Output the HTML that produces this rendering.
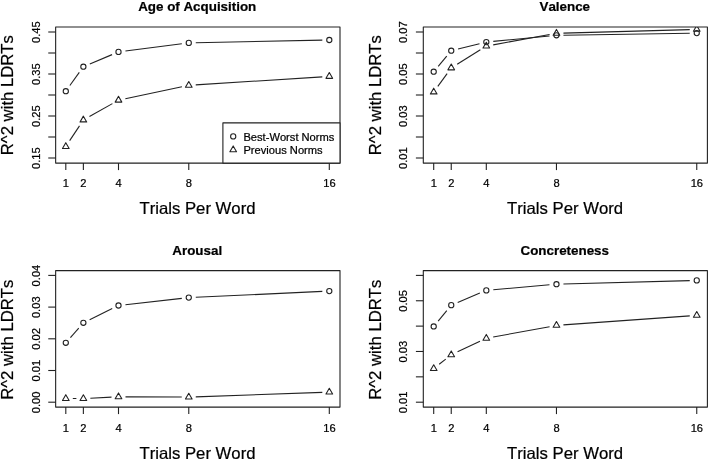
<!DOCTYPE html>
<html><head><meta charset="utf-8"><title>R^2 with LDRTs by Trials Per Word</title>
<style>
html,body{margin:0;padding:0;background:#fff}
svg{display:block}
svg text{font-family:"Liberation Sans",Arial,Helvetica,sans-serif;fill:#000;stroke:#000;stroke-width:0.22px;stroke-linejoin:round;font-kerning:none}
.t{font-size:11.15px}
.l{font-size:16.72px}
.m{font-size:13.38px;font-weight:bold}
.mk{stroke-width:1.1}
</style></head><body>
<svg width="709" height="460" viewBox="0 0 709 460">
<rect x="0" y="0" width="709" height="460" fill="#fff" stroke="none"/>
<defs><clipPath id="bx0"><rect x="55.65" y="27.0" width="284.35" height="136.10"/></clipPath><clipPath id="bx1"><rect x="55.60" y="27.0" width="284.10" height="136.10"/></clipPath><clipPath id="bx2"><rect x="55.65" y="270.6" width="284.35" height="136.50"/></clipPath><clipPath id="bx3"><rect x="55.60" y="270.6" width="284.10" height="136.50"/></clipPath></defs>
<g fill="none" stroke="#222" stroke-width="1.1" stroke-linecap="butt" stroke-linejoin="round">
<g transform="translate(0,0)">
<rect x="55.65" y="27.0" width="284.35" height="136.10"/>
<line x1="65.80" y1="163.10" x2="65.80" y2="170.10"/>
<text class="t" x="65.90" y="187.1" text-anchor="middle">1</text>
<line x1="83.37" y1="163.10" x2="83.37" y2="170.10"/>
<text class="t" x="83.47" y="187.1" text-anchor="middle">2</text>
<line x1="118.50" y1="163.10" x2="118.50" y2="170.10"/>
<text class="t" x="118.60" y="187.1" text-anchor="middle">4</text>
<line x1="188.77" y1="163.10" x2="188.77" y2="170.10"/>
<text class="t" x="188.87" y="187.1" text-anchor="middle">8</text>
<line x1="329.30" y1="163.10" x2="329.30" y2="170.10"/>
<text class="t" x="329.40" y="187.1" text-anchor="middle">16</text>
<line x1="48.25" y1="32.00" x2="55.65" y2="32.00"/>
<text class="t" transform="translate(39.6,32.15) rotate(-90)" text-anchor="middle">0.45</text>
<line x1="48.25" y1="53.00" x2="55.65" y2="53.00"/>
<line x1="48.25" y1="74.00" x2="55.65" y2="74.00"/>
<text class="t" transform="translate(39.6,74.15) rotate(-90)" text-anchor="middle">0.35</text>
<line x1="48.25" y1="95.00" x2="55.65" y2="95.00"/>
<line x1="48.25" y1="116.00" x2="55.65" y2="116.00"/>
<text class="t" transform="translate(39.6,116.15) rotate(-90)" text-anchor="middle">0.25</text>
<line x1="48.25" y1="137.00" x2="55.65" y2="137.00"/>
<line x1="48.25" y1="158.00" x2="55.65" y2="158.00"/>
<text class="t" transform="translate(39.6,158.15) rotate(-90)" text-anchor="middle">0.15</text>
<g clip-path="url(#bx0)">
<line x1="69.88" y1="85.51" x2="79.29" y2="72.39"/>
<line x1="89.82" y1="63.98" x2="112.05" y2="54.62"/>
<line x1="125.44" y1="51.01" x2="181.82" y2="43.79"/>
<line x1="195.77" y1="42.76" x2="322.30" y2="40.14"/>
<line x1="69.67" y1="140.67" x2="79.50" y2="125.83"/>
<line x1="89.46" y1="116.56" x2="112.40" y2="103.64"/>
<line x1="125.35" y1="98.75" x2="181.92" y2="86.80"/>
<line x1="195.75" y1="84.91" x2="322.31" y2="76.84"/>
<g class="mk">
<circle cx="65.80" cy="91.20" r="2.6"/>
<circle cx="83.37" cy="66.70" r="2.6"/>
<circle cx="118.50" cy="51.90" r="2.6"/>
<circle cx="188.77" cy="42.90" r="2.6"/>
<circle cx="329.30" cy="40.00" r="2.6"/>
<polygon points="65.80,142.65 69.13,148.43 62.47,148.43"/>
<polygon points="83.37,116.15 86.70,121.92 80.03,121.92"/>
<polygon points="118.50,96.35 121.83,102.12 115.17,102.12"/>
<polygon points="188.77,81.50 192.10,87.27 185.43,87.27"/>
<polygon points="329.30,72.55 332.63,78.33 325.97,78.33"/>
</g></g>
<text class="m" transform="translate(197.22,10.8)" text-anchor="middle">Age of Acquisition</text>
<text class="l" x="197.52" y="214.0" text-anchor="middle">Trials Per Word</text>
<text class="l" transform="translate(13.0,95.15) rotate(-90)" text-anchor="middle">R^2 with LDRTs</text>
<rect x="222.9" y="122.9" width="117.10" height="40.20" fill="#fff"/>
<g class="mk">
<circle cx="233.20" cy="136.40" r="2.6"/>
<polygon points="233.20,145.95 236.53,151.73 229.87,151.73"/>
</g>
<text class="t" x="243.4" y="140.7">Best-Worst Norms</text>
<text class="t" x="243.4" y="153.8">Previous Norms</text>
</g>
<g transform="translate(367.7,0)">
<rect x="55.60" y="27.0" width="284.10" height="136.10"/>
<line x1="66.00" y1="163.10" x2="66.00" y2="170.10"/>
<text class="t" x="66.10" y="187.1" text-anchor="middle">1</text>
<line x1="83.54" y1="163.10" x2="83.54" y2="170.10"/>
<text class="t" x="83.64" y="187.1" text-anchor="middle">2</text>
<line x1="118.61" y1="163.10" x2="118.61" y2="170.10"/>
<text class="t" x="118.71" y="187.1" text-anchor="middle">4</text>
<line x1="188.76" y1="163.10" x2="188.76" y2="170.10"/>
<text class="t" x="188.86" y="187.1" text-anchor="middle">8</text>
<line x1="329.05" y1="163.10" x2="329.05" y2="170.10"/>
<text class="t" x="329.15" y="187.1" text-anchor="middle">16</text>
<line x1="48.20" y1="32.00" x2="55.60" y2="32.00"/>
<text class="t" transform="translate(39.6,32.15) rotate(-90)" text-anchor="middle">0.07</text>
<line x1="48.20" y1="53.00" x2="55.60" y2="53.00"/>
<line x1="48.20" y1="74.00" x2="55.60" y2="74.00"/>
<text class="t" transform="translate(39.6,74.15) rotate(-90)" text-anchor="middle">0.05</text>
<line x1="48.20" y1="95.00" x2="55.60" y2="95.00"/>
<line x1="48.20" y1="116.00" x2="55.60" y2="116.00"/>
<text class="t" transform="translate(39.6,116.15) rotate(-90)" text-anchor="middle">0.03</text>
<line x1="48.20" y1="137.00" x2="55.60" y2="137.00"/>
<line x1="48.20" y1="158.00" x2="55.60" y2="158.00"/>
<text class="t" transform="translate(39.6,158.15) rotate(-90)" text-anchor="middle">0.01</text>
<g clip-path="url(#bx1)">
<line x1="70.49" y1="66.33" x2="79.05" y2="56.07"/>
<line x1="90.34" y1="49.03" x2="111.81" y2="43.77"/>
<line x1="125.58" y1="41.42" x2="181.79" y2="35.98"/>
<line x1="195.76" y1="35.19" x2="322.05" y2="33.21"/>
<line x1="70.12" y1="86.34" x2="79.42" y2="73.56"/>
<line x1="89.48" y1="64.20" x2="112.66" y2="49.80"/>
<line x1="125.50" y1="44.84" x2="181.87" y2="34.56"/>
<line x1="195.75" y1="33.11" x2="322.05" y2="29.59"/>
<g class="mk">
<circle cx="66.00" cy="71.70" r="2.6"/>
<circle cx="83.54" cy="50.70" r="2.6"/>
<circle cx="118.61" cy="42.10" r="2.6"/>
<circle cx="188.76" cy="35.30" r="2.6"/>
<circle cx="329.05" cy="33.10" r="2.6"/>
<polygon points="66.00,88.15 69.33,93.92 62.67,93.92"/>
<polygon points="83.54,64.05 86.87,69.83 80.20,69.83"/>
<polygon points="118.61,42.25 121.94,48.02 115.28,48.02"/>
<polygon points="188.76,29.45 192.09,35.22 185.42,35.22"/>
<polygon points="329.05,25.55 332.38,31.32 325.72,31.32"/>
</g></g>
<text class="m" transform="translate(197.05,10.8)" text-anchor="middle">Valence</text>
<text class="l" x="197.35" y="214.0" text-anchor="middle">Trials Per Word</text>
<text class="l" transform="translate(13.0,95.15) rotate(-90)" text-anchor="middle">R^2 with LDRTs</text>
</g>
<g transform="translate(0,0)">
<rect x="55.65" y="270.6" width="284.35" height="136.50"/>
<line x1="65.80" y1="407.10" x2="65.80" y2="414.10"/>
<text class="t" x="65.90" y="432.1" text-anchor="middle">1</text>
<line x1="83.37" y1="407.10" x2="83.37" y2="414.10"/>
<text class="t" x="83.47" y="432.1" text-anchor="middle">2</text>
<line x1="118.50" y1="407.10" x2="118.50" y2="414.10"/>
<text class="t" x="118.60" y="432.1" text-anchor="middle">4</text>
<line x1="188.77" y1="407.10" x2="188.77" y2="414.10"/>
<text class="t" x="188.87" y="432.1" text-anchor="middle">8</text>
<line x1="329.30" y1="407.10" x2="329.30" y2="414.10"/>
<text class="t" x="329.40" y="432.1" text-anchor="middle">16</text>
<line x1="48.25" y1="275.40" x2="55.65" y2="275.40"/>
<text class="t" transform="translate(39.6,275.55) rotate(-90)" text-anchor="middle">0.04</text>
<line x1="48.25" y1="307.10" x2="55.65" y2="307.10"/>
<text class="t" transform="translate(39.6,307.25) rotate(-90)" text-anchor="middle">0.03</text>
<line x1="48.25" y1="338.80" x2="55.65" y2="338.80"/>
<text class="t" transform="translate(39.6,338.95) rotate(-90)" text-anchor="middle">0.02</text>
<line x1="48.25" y1="370.50" x2="55.65" y2="370.50"/>
<text class="t" transform="translate(39.6,370.65) rotate(-90)" text-anchor="middle">0.01</text>
<line x1="48.25" y1="402.20" x2="55.65" y2="402.20"/>
<text class="t" transform="translate(39.6,402.35) rotate(-90)" text-anchor="middle">0.00</text>
<g clip-path="url(#bx2)">
<line x1="70.42" y1="337.54" x2="78.75" y2="328.06"/>
<line x1="89.65" y1="319.71" x2="112.22" y2="308.59"/>
<line x1="125.46" y1="304.72" x2="181.81" y2="298.38"/>
<line x1="195.76" y1="297.28" x2="322.31" y2="291.42"/>
<line x1="72.80" y1="398.54" x2="76.37" y2="398.56"/>
<line x1="90.36" y1="398.24" x2="111.51" y2="397.16"/>
<line x1="125.50" y1="396.83" x2="181.77" y2="397.07"/>
<line x1="195.76" y1="396.85" x2="322.30" y2="392.35"/>
<g class="mk">
<circle cx="65.80" cy="342.80" r="2.6"/>
<circle cx="83.37" cy="322.80" r="2.6"/>
<circle cx="118.50" cy="305.50" r="2.6"/>
<circle cx="188.77" cy="297.60" r="2.6"/>
<circle cx="329.30" cy="291.10" r="2.6"/>
<polygon points="65.80,394.65 69.13,400.43 62.47,400.43"/>
<polygon points="83.37,394.75 86.70,400.53 80.03,400.53"/>
<polygon points="118.50,392.95 121.83,398.73 115.17,398.73"/>
<polygon points="188.77,393.25 192.10,399.03 185.43,399.03"/>
<polygon points="329.30,388.25 332.63,394.03 325.97,394.03"/>
</g></g>
<text class="m" transform="translate(197.22,255.2)" text-anchor="middle">Arousal</text>
<text class="l" x="197.52" y="458.9" text-anchor="middle">Trials Per Word</text>
<text class="l" transform="translate(13.0,339.70) rotate(-90)" text-anchor="middle">R^2 with LDRTs</text>
</g>
<g transform="translate(367.7,0)">
<rect x="55.60" y="270.6" width="284.10" height="136.50"/>
<line x1="66.00" y1="407.10" x2="66.00" y2="414.10"/>
<text class="t" x="66.10" y="432.1" text-anchor="middle">1</text>
<line x1="83.54" y1="407.10" x2="83.54" y2="414.10"/>
<text class="t" x="83.64" y="432.1" text-anchor="middle">2</text>
<line x1="118.61" y1="407.10" x2="118.61" y2="414.10"/>
<text class="t" x="118.71" y="432.1" text-anchor="middle">4</text>
<line x1="188.76" y1="407.10" x2="188.76" y2="414.10"/>
<text class="t" x="188.86" y="432.1" text-anchor="middle">8</text>
<line x1="329.05" y1="407.10" x2="329.05" y2="414.10"/>
<text class="t" x="329.15" y="432.1" text-anchor="middle">16</text>
<line x1="48.20" y1="275.40" x2="55.60" y2="275.40"/>
<line x1="48.20" y1="300.76" x2="55.60" y2="300.76"/>
<text class="t" transform="translate(39.6,300.91) rotate(-90)" text-anchor="middle">0.05</text>
<line x1="48.20" y1="326.12" x2="55.60" y2="326.12"/>
<line x1="48.20" y1="351.48" x2="55.60" y2="351.48"/>
<text class="t" transform="translate(39.6,351.63) rotate(-90)" text-anchor="middle">0.03</text>
<line x1="48.20" y1="376.84" x2="55.60" y2="376.84"/>
<line x1="48.20" y1="402.20" x2="55.60" y2="402.20"/>
<text class="t" transform="translate(39.6,402.35) rotate(-90)" text-anchor="middle">0.01</text>
<g clip-path="url(#bx3)">
<line x1="70.45" y1="321.05" x2="79.09" y2="310.55"/>
<line x1="89.99" y1="302.44" x2="112.16" y2="293.11"/>
<line x1="125.58" y1="289.78" x2="181.78" y2="284.82"/>
<line x1="195.75" y1="284.01" x2="322.05" y2="280.59"/>
<line x1="71.50" y1="364.27" x2="78.04" y2="359.13"/>
<line x1="89.87" y1="351.82" x2="112.28" y2="341.28"/>
<line x1="125.49" y1="337.03" x2="181.87" y2="326.67"/>
<line x1="195.74" y1="324.90" x2="322.07" y2="315.90"/>
<g class="mk">
<circle cx="66.00" cy="326.45" r="2.6"/>
<circle cx="83.54" cy="305.15" r="2.6"/>
<circle cx="118.61" cy="290.40" r="2.6"/>
<circle cx="188.76" cy="284.20" r="2.6"/>
<circle cx="329.05" cy="280.40" r="2.6"/>
<polygon points="66.00,364.75 69.33,370.53 62.67,370.53"/>
<polygon points="83.54,350.95 86.87,356.73 80.20,356.73"/>
<polygon points="118.61,334.45 121.94,340.23 115.28,340.23"/>
<polygon points="188.76,321.55 192.09,327.32 185.42,327.32"/>
<polygon points="329.05,311.55 332.38,317.32 325.72,317.32"/>
</g></g>
<text class="m" transform="translate(197.05,255.2)" text-anchor="middle">Concreteness</text>
<text class="l" x="197.35" y="458.9" text-anchor="middle">Trials Per Word</text>
<text class="l" transform="translate(13.0,339.70) rotate(-90)" text-anchor="middle">R^2 with LDRTs</text>
</g>
</g>
</svg>
</body></html>
